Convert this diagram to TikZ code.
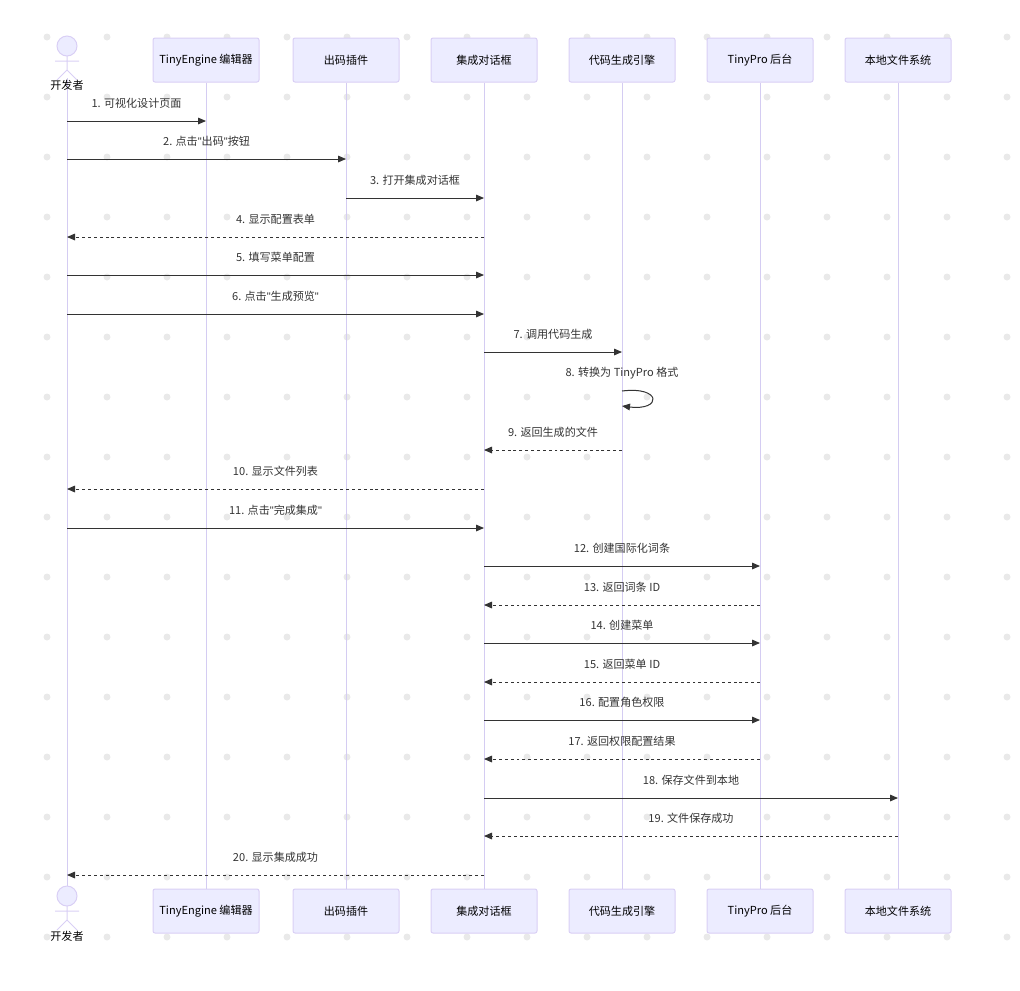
\documentclass[tikz,border=0pt]{standalone}
\usepackage{fontspec}
\setmainfont{Noto Sans CJK SC}[Ligatures=ResetAll]
\newfontfamily\quotefont{Liberation Sans}[Ligatures=ResetAll]
\newcommand{\qmark}{{\quotefont\char34}}
\usetikzlibrary{arrows.meta}
\definecolor{boxfill}{HTML}{ECECFF}
\definecolor{boxline}{HTML}{D9CFF5}
\definecolor{lifeline}{HTML}{D4CCF2}
\definecolor{dotgray}{HTML}{E9E9E9}
\definecolor{msgcol}{HTML}{333333}
\tikzset{every picture/.style={line width=0.75pt},
  actorbox/.style={draw=boxline,fill=boxfill,rounded corners=1.5pt,minimum width=79.5pt,minimum height=33pt,inner sep=0pt,font=\fontsize{8.3}{10}\selectfont},
  msg/.style={draw=msgcol,-{Triangle[length=6pt,width=5pt]}},
  ret/.style={msg,dash pattern=on 2.2pt off 2.2pt},
  msglabel/.style={font=\fontsize{8.3}{10}\selectfont,text=msgcol}}
\begin{document}
\begin{tikzpicture}[x=0.75pt,y=0.75pt,yscale=-1,xscale=1]
\useasboundingbox (0,0) rectangle (1020,990);
%background dots
\foreach \gx in {47,107,...,1007}
  \foreach \gy in {37,97,...,937}
    \fill[dotgray] (\gx,\gy) circle (3.5);

%participants
\coordinate (topA) at (67,60);
\coordinate (botA) at (67,890);
\node[actorbox] (topB) at (206,60) {TinyEngine 编辑器};
\node[actorbox] (topC) at (346,60) {出码插件};
\node[actorbox] (topD) at (484,60) {集成对话框};
\node[actorbox] (topE) at (622,60) {代码生成引擎};
\node[actorbox] (topF) at (760,60) {TinyPro 后台};
\node[actorbox] (topG) at (898,60) {本地文件系统};
\node[actorbox] (botB) at (206,911) {TinyEngine 编辑器};
\node[actorbox] (botC) at (346,911) {出码插件};
\node[actorbox] (botD) at (484,911) {集成对话框};
\node[actorbox] (botE) at (622,911) {代码生成引擎};
\node[actorbox] (botF) at (760,911) {TinyPro 后台};
\node[actorbox] (botG) at (898,911) {本地文件系统};

%lifelines
\draw[lifeline] (67,78) -- (botA);
\foreach \p in {B,C,D,E,F,G}
  \draw[lifeline] (top\p.south) -- (bot\p.north);

%actor figures
\foreach \hy/\nm in {46/top,896/bot}{
  \draw[boxline,fill=boxfill] (67,\hy) circle (10);
  \draw[boxline] (67,\hy+10) -- (67,\hy+24) (55,\hy+15) -- (79,\hy+15)
    (57,\hy+34) -- (67,\hy+24) -- (77,\hy+34);
}
\node[font=\fontsize{8.3}{10}\selectfont] (actTop) at (67,85) {开发者};
\node[font=\fontsize{8.3}{10}\selectfont] (actBot) at (67,936) {开发者};

%messages
\foreach \y/\a/\b/\t/\s in {
  121/A/B/{1. 可视化设计页面}/msg,
  159/A/C/{2. 点击\qmark 出码\qmark 按钮}/msg,
  198/C/D/{3. 打开集成对话框}/msg,
  237/D/A/{4. 显示配置表单}/ret,
  275/A/D/{5. 填写菜单配置}/msg,
  314/A/D/{6. 点击\qmark 生成预览\qmark}/msg,
  352/D/E/{7. 调用代码生成}/msg,
  450/E/D/{9. 返回生成的文件}/ret,
  489/D/A/{10. 显示文件列表}/ret,
  528/A/D/{11. 点击\qmark 完成集成\qmark}/msg,
  566/D/F/{12. 创建国际化词条}/msg,
  605/F/D/{13. 返回词条 ID}/ret,
  643/D/F/{14. 创建菜单}/msg,
  682/F/D/{15. 返回菜单 ID}/ret,
  720/D/F/{16. 配置角色权限}/msg,
  759/F/D/{17. 返回权限配置结果}/ret,
  798/D/G/{18. 保存文件到本地}/msg,
  836/G/D/{19. 文件保存成功}/ret,
  875/D/A/{20. 显示集成成功}/ret}
  \draw[\s] (top\a |- 0,\y) -- (top\b |- 0,\y)
    node[msglabel,midway,yshift=13.5pt] {\t};

%self message
\coordinate (selfS) at (622,391);
\coordinate (selfE) at (622,406);
\draw[msg] (selfS) .. controls (662,386) and (662,411) .. (selfE);
\node[msglabel] (selfLbl) at (622,373) {8. 转换为 TinyPro 格式};
\end{tikzpicture}
\end{document}
